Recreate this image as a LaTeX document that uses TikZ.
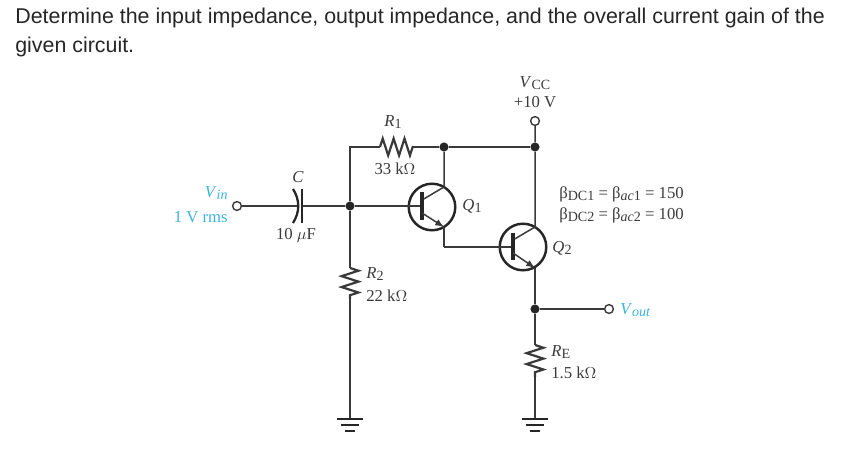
\documentclass[tikz,border=0pt]{standalone}
\usepackage{fontspec}
\setmainfont{Liberation Serif}
\newfontfamily\headfont{Liberation Sans}
\usetikzlibrary{decorations.pathmorphing,arrows.meta}
\definecolor{inkgray}{HTML}{3A3A3A}
\definecolor{signalblue}{HTML}{3DB4DC}
\newcommand{\lowtxt}[1]{\raisebox{-0.3ex}{\fontsize{8}{8}\selectfont #1}}
\tikzset{
    wire/.style={draw=inkgray,line width=0.85pt},
    dotnode/.style={circle,fill=black!85,draw=none,minimum size=5.2pt,inner sep=0pt},
    termnode/.style={circle,fill=white,draw=inkgray,line width=0.8pt,minimum size=5pt,inner sep=0pt},
    transnode/.style={circle,draw=black!85,line width=1.4pt,minimum size=26.5pt,inner sep=0pt},
    resistor/.style={wire,line width=1.25pt,decorate,decoration={zigzag,segment length=6.2pt,amplitude=4.8pt}},
    lbl/.style={text=inkgray,font=\fontsize{9.5}{11}\selectfont,inner sep=0pt},
    bluelbl/.style={lbl,text=signalblue},
    plate/.style={draw=black!85,line width=1.3pt},
    gbar/.style={draw=black!85,line width=1.2pt}
}
\begin{document}
\begin{tikzpicture}[x=0.02cm,y=-0.02cm]
    \useasboundingbox (0,0) rectangle (856,452);

    \node (Title) [anchor=north west,align=left,inner sep=0pt,text=black!85,
        font=\headfont\fontsize{12.17}{16.4}\selectfont] at (15,8)
        {Determine the input impedance, output impedance, and the overall current gain of the\\given circuit.};

    % terminals and junctions
    \node (Vin) [termnode] at (237,206) {};
    \node (Vcc) [termnode] at (535,121) {};
    \node (Vout) [termnode] at (609,309) {};
    \node (JB) [dotnode] at (350,206) {};
    \node (JC1) [dotnode] at (444,147) {};
    \node (JC2) [dotnode] at (535,147) {};
    \node (JE) [dotnode] at (535,309) {};
    \node (Q1) [transnode] at (432,207) {};
    \node (Q2) [transnode] at (523,247) {};

    % corners and part ends
    \coordinate (TL) at (350,147);
    \coordinate (R1a) at (380,147);
    \coordinate (R1b) at (413,147);
    \coordinate (R2a) at (350,268);
    \coordinate (R2b) at (350,299);
    \coordinate (REa) at (535,345);
    \coordinate (REb) at (535,377);
    \coordinate (GndA) at (350,419);
    \coordinate (GndB) at (535,419);
    \coordinate (CapL) at (298,206);
    \coordinate (CapR) at (302,206);
    \coordinate (CapTop) at (293,189);
    \coordinate (CapBot) at (293,223);
    \coordinate (CapPT) at (302,189);
    \coordinate (CapPB) at (302,223);

    \coordinate (B1) at (422,206);
    \coordinate (B1t) at (422,192);
    \coordinate (B1b) at (422,220);
    \coordinate (C1i) at (422,200);
    \coordinate (C1o) at (444,187);
    \coordinate (E1i) at (422,213);
    \coordinate (E1o) at (444,227);
    \coordinate (EB) at (444,247);

    \coordinate (B2) at (513,247);
    \coordinate (B2t) at (513,233);
    \coordinate (B2b) at (513,260);
    \coordinate (C2i) at (513,240);
    \coordinate (C2o) at (535,227);
    \coordinate (E2i) at (513,253);
    \coordinate (E2o) at (535,268);

    % wiring
    \draw [wire] (Vin) -- (CapL);
    \draw [wire] (CapR) -- (JB);
    \draw [wire] (JB) -- (B1);
    \draw [wire] (JB) -- (TL) -- (R1a);
    \draw [wire] (R1b) -- (JC1);
    \draw [wire] (JC1) -- (JC2);
    \draw [wire] (JC1) -- (C1o) -- (C1i);
    \draw [wire] (Vcc) -- (JC2) -- (C2o) -- (C2i);
    \draw [wire] (JB) -- (R2a);
    \draw [wire] (R2b) -- (GndA);
    \draw [wire] (EB) -- (E1o);
    \draw [wire] (EB) -- (B2);
    \draw [wire] (E2o) -- (JE);
    \draw [wire] (JE) -- (Vout);
    \draw [wire] (JE) -- (REa);
    \draw [wire] (REb) -- (GndB);

    % parts
    \draw [resistor] (R1a) -- (R1b);
    \draw [resistor] (R2a) -- (R2b);
    \draw [resistor] (REa) -- (REb);
    \draw [plate] (CapPT) -- (CapPB);
    \draw [plate] (CapTop) .. controls (300,200) and (300,212) .. (CapBot);
    \draw [plate,line width=1.9pt] (B1t) -- (B1b);
    \draw [plate,line width=1.9pt] (B2t) -- (B2b);
    \draw [wire,-{Latex[length=5pt,width=4pt]}] (E1i) -- (E1o);
    \draw [wire,-{Latex[length=5pt,width=4pt]}] (E2i) -- (E2o);
    \foreach \g in {GndA,GndB} {
        \draw [gbar] (\g) +(-13,0) -- +(13,0) +(-9,6) -- +(9,6) +(-5,12) -- +(5,12);
    }

    % labels
    \begin{scope}[every node/.style={lbl}]
        \node (LC) at (298,177) {\textit{C}};
        \node (LCv) at (296,235) {10 $\mu$F};
        \node (LR1) at (393,122) {\textit{R}\lowtxt{1}};
        \node (LR1v) at (395,169) {33 k$\Omega$};
        \node (LQ1) at (472,206) {\textit{Q}\lowtxt{1}};
        \node (LQ2) at (562,248) {\textit{Q}\lowtxt{2}};
        \node (LVcc) at (535,83) {\textit{V}\lowtxt{CC}};
        \node (LVccv) at (535,102) {+10 V};
        \node (LB1) [anchor=west] at (559,194) {β\lowtxt{DC1} = β\lowtxt{\textit{ac}1} = 150};
        \node (LB2) [anchor=west] at (559,215) {β\lowtxt{DC2} = β\lowtxt{\textit{ac}2} = 100};
        \node (LR2) [anchor=west] at (366,274) {\textit{R}\lowtxt{2}};
        \node (LR2v) [anchor=west] at (366,296) {22 k$\Omega$};
        \node (LRE) [anchor=west] at (551,352) {\textit{R}\lowtxt{E}};
        \node (LREv) [anchor=west] at (551,373) {1.5 k$\Omega$};
        \node (LVin) [bluelbl,anchor=east] at (228,193) {\textit{V}\lowtxt{\textit{in}}};
        \node (LVinv) [bluelbl,anchor=east] at (228,217) {1 V rms};
        \node (LVout) [bluelbl,anchor=west] at (620,310) {\textit{V}\lowtxt{\textit{out}}};
    \end{scope}
\end{tikzpicture}
\end{document}
